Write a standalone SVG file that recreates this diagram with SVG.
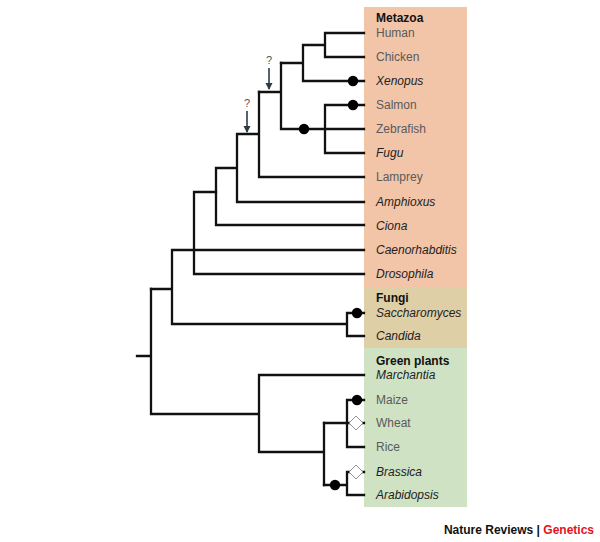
<svg xmlns="http://www.w3.org/2000/svg" width="600" height="542" viewBox="0 0 600 542">
<style>
text{font-family:"Liberation Sans",Arial,sans-serif;font-size:12px}
.c{fill:#5a5a5a}
.l{fill:#222;font-style:italic}
.t{fill:#111;font-weight:bold}
.tree{fill:none;stroke:#111;stroke-width:2.3;stroke-linecap:square}
.dot{fill:#000}
.dia{fill:#fff;stroke:#777;stroke-width:0.8}
.arr{stroke:#2d3b45;stroke-width:1.6;fill:none}
.q{fill:#555;font-size:11px;text-anchor:middle}
</style>
<defs>
<marker id="ah" markerWidth="8" markerHeight="8" refX="6" refY="4" orient="auto" markerUnits="userSpaceOnUse">
<path d="M0,0.5 L7,4 L0,7.5 Z" fill="#2d3b45"/>
</marker>
</defs>
<rect width="600" height="542" fill="#fff"/>
<g id="box-metazoa"><rect x="364" y="7" width="103" height="280" fill="#f2c5a9"/></g>
<g id="box-fungi"><rect x="364" y="287" width="103" height="61" fill="#dfcfa7"/></g>
<g id="box-plants"><rect x="364" y="348" width="103" height="159" fill="#cfe2c4"/></g>
<g id="connectors">
<path class="tree" d="M325,33H364M325,57H364M325,33V57M303,45H325M303,81H364M303,45V81M281,63H303"/>
<path class="tree" d="M325,105H364M325,153H364M325,105V153M281,129H364M281,63V129M259,92H281"/>
<path class="tree" d="M259,177H364M259,92V177M237,134H259M237,202H364M237,134V202M216,168H237M216,225H364M216,168V225"/>
<path class="tree" d="M194,192H216M194,274H364M194,192V274M172,250H364M172,250V324M172,324H347M347,313H364M347,336H364M347,313V336M151,289H172"/>
<path class="tree" d="M137,356H151M151,289V414M151,414H259M259,375H364M259,375V452M259,452H324M324,423V485"/>
<path class="tree" d="M324,423H364M347,400H364M347,447H364M347,400V447M324,485H347M347,472H364M347,495H364M347,472V495"/>
<circle class="dot" cx="353" cy="81" r="5.2"/>
<circle class="dot" cx="353" cy="105" r="5.2"/>
<circle class="dot" cx="304" cy="129" r="5.2"/>
<circle class="dot" cx="357" cy="313" r="5.2"/>
<circle class="dot" cx="357" cy="400" r="5.2"/>
<circle class="dot" cx="335" cy="485" r="5.2"/>
<path class="dia" d="M356,416L363,423L356,430L349,423Z"/>
<path class="dia" d="M356,465L363,472L356,479L349,472Z"/>
<line class="arr" x1="269" y1="68" x2="269" y2="89" marker-end="url(#ah)"/>
<line class="arr" x1="247" y1="111" x2="247" y2="132" marker-end="url(#ah)"/>
<text class="q" x="269" y="64">?</text>
<text class="q" x="247" y="107">?</text>
</g>
<g id="title-metazoa"><text class="t" x="376" y="22">Metazoa</text></g>
<g id="n-human"><text class="c" x="376" y="37">Human</text></g>
<g id="n-chicken"><text class="c" x="376" y="61">Chicken</text></g>
<g id="n-xenopus"><text class="l" x="376" y="85">Xenopus</text></g>
<g id="n-salmon"><text class="c" x="376" y="109">Salmon</text></g>
<g id="n-zebrafish"><text class="c" x="376" y="133">Zebrafish</text></g>
<g id="n-fugu"><text class="l" x="376" y="157">Fugu</text></g>
<g id="n-lamprey"><text class="c" x="376" y="181">Lamprey</text></g>
<g id="n-amphioxus"><text class="l" x="376" y="206">Amphioxus</text></g>
<g id="n-ciona"><text class="l" x="376" y="230">Ciona</text></g>
<g id="n-caenorhabditis"><text class="l" x="376" y="254">Caenorhabditis</text></g>
<g id="n-drosophila"><text class="l" x="376" y="278">Drosophila</text></g>
<g id="title-fungi"><text class="t" x="376" y="302">Fungi</text></g>
<g id="n-saccharomyces"><text class="l" x="376" y="317">Saccharomyces</text></g>
<g id="n-candida"><text class="l" x="376" y="340">Candida</text></g>
<g id="title-plants"><text class="t" x="376" y="365">Green plants</text></g>
<g id="n-marchantia"><text class="l" x="376" y="379">Marchantia</text></g>
<g id="n-maize"><text class="c" x="376" y="404">Maize</text></g>
<g id="n-wheat"><text class="c" x="376" y="427">Wheat</text></g>
<g id="n-rice"><text class="c" x="376" y="451">Rice</text></g>
<g id="n-brassica"><text class="l" x="376" y="476">Brassica</text></g>
<g id="n-arabidopsis"><text class="l" x="376" y="499">Arabidopsis</text></g>
<g id="footer"><text x="594" y="534" text-anchor="end" style="font-size:12px;font-weight:bold;fill:#111">Nature Reviews | <tspan fill="#e3121b">Genetics</tspan></text></g>
</svg>
